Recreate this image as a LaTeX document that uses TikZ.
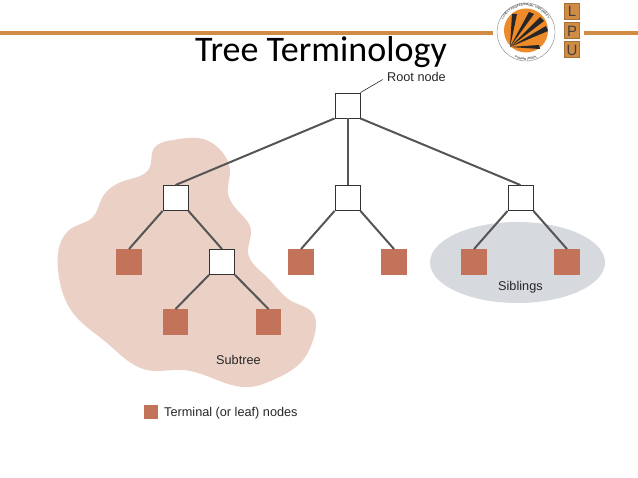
\documentclass[tikz,border=0pt]{standalone}
\usepackage{fontspec}
\setmainfont{Liberation Sans}
\newfontfamily\titlefont{Carlito}
\usetikzlibrary{hobby}
\usetikzlibrary{shapes.geometric}
\usetikzlibrary{decorations.text}
\definecolor{barorange}{HTML}{D08C45}
\definecolor{leafred}{HTML}{C4735B}
\definecolor{blobpink}{HTML}{EBD0C6}
\definecolor{ovalgrey}{HTML}{D6D9DE}
\definecolor{edgegrey}{HTML}{555555}
\definecolor{logoorange}{HTML}{EE8A2A}
\tikzstyle{inner box}=[draw=black!80, fill=white, minimum size=25pt, inner sep=0pt, line width=0.9pt]
\tikzstyle{leaf box}=[fill=leafred, minimum size=25.5pt, inner sep=0pt]
\tikzstyle{edge}=[draw=edgegrey, line width=2pt]
\tikzstyle{label}=[font=\fontsize{12.7}{14}\selectfont, text=black!85, inner sep=0pt]
\tikzstyle{letter box}=[draw=barorange!80!black, fill=barorange, minimum width=15pt, minimum height=16pt, inner sep=0pt, line width=1pt, font=\fontsize{15}{15}\selectfont, text=black!75]
\begin{document}
\begin{tikzpicture}[x=1pt, y=-1pt]
      \useasboundingbox (0, 0) rectangle (638, 478);
      % header
      \draw[barorange, line width=3.5pt] (0, 33) -- (493, 33) (584, 33) -- (638, 33);
      \node[font=\titlefont\fontsize{36}{38}\selectfont, inner sep=0pt] (title) at (321, 52) {Tree Terminology};
      \node[circle, draw=black!50, fill=white, minimum size=58pt, inner sep=0pt] (seal) at (526, 32) {};
      \node[circle, fill=logoorange, minimum size=44pt, inner sep=0pt] (sun) at (526, 30.5) {};
      \foreach \ax/\ay/\bx/\by in {512/14/517/14, 529/12/534/14, 540/17/544/21, 546/26/548/31, 539/45/540/49}
        \fill[black!85] (510, 47) -- (\ax, \ay) -- (\bx, \by) -- cycle;
      \path[decorate, decoration={text along path, text align=center,
          text={|\fontsize{3}{4}\selectfont|LOVELY PROFESSIONAL UNIVERSITY}}]
        (501, 38) arc[start angle=195, end angle=-15, radius=25.5pt];
      \path[decorate, decoration={text along path, text align=center,
          text={|\fontsize{3}{4}\selectfont|PUNJAB (INDIA)}}]
        (509, 54) arc[start angle=230, end angle=310, radius=26pt];
      \node[letter box] (l) at (572, 11.5) {L};
      \node[letter box] (p) at (572, 31) {P};
      \node[letter box] (u) at (572, 50) {U};
      % regions
      \fill[blobpink, use Hobby shortcut, closed=true] (153, 150) .. (173, 140) .. (203, 139) .. (223, 153) .. (230, 170)
        .. (228, 193) .. (240, 213) .. (251, 230) .. (248, 252) .. (267, 277)
        .. (293, 302) .. (312, 312) .. (314, 337) .. (303, 360) .. (273, 380)
        .. (250, 387) .. (217, 380) .. (183, 370) .. (147, 370) .. (107, 343)
        .. (73, 313) .. (58, 270) .. (72, 228) .. (93, 217) .. (102, 198)
        .. (127, 180) .. (150, 167);
      \node[ellipse, fill=ovalgrey, minimum width=175pt, minimum height=81pt, inner sep=0pt] (siblings) at (517.5, 262.5) {};
      % tree
      \node[inner box] (root) at (347.5, 105.5) {};
      \node[inner box] (a) at (175.5, 198) {};
      \node[inner box] (b) at (347.5, 198) {};
      \node[inner box] (c) at (520.5, 198) {};
      \node[leaf box] (a1) at (129, 262) {};
      \node[inner box] (a2) at (222, 262) {};
      \node[leaf box] (a21) at (175.5, 322) {};
      \node[leaf box] (a22) at (268.5, 322) {};
      \node[leaf box] (b1) at (301, 262) {};
      \node[leaf box] (b2) at (394, 262) {};
      \node[leaf box] (c1) at (474, 262) {};
      \node[leaf box] (c2) at (567, 262) {};
      \draw[edge] (root.south west) to (a.north);
      \draw[edge] (root.south) to (b.north);
      \draw[edge] (root.south east) to (c.north);
      \draw[edge] (a.south west) to (a1.north);
      \draw[edge] (a.south east) to (a2.north);
      \draw[edge] (a2.south west) to (a21.north);
      \draw[edge] (a2.south east) to (a22.north);
      \draw[edge] (b.south west) to (b1.north);
      \draw[edge] (b.south east) to (b2.north);
      \draw[edge] (c.south west) to (c1.north);
      \draw[edge] (c.south east) to (c2.north);
      % labels
      \node[label, anchor=west] (rootlabel) at (387, 77) {Root node};
      \draw[black!85, semithick, shorten >=5pt] (root.north east) to (rootlabel.west);
      \node[label, anchor=west] (siblingslabel) at (498, 287) {Siblings};
      \node[label, anchor=west] (subtreelabel) at (216, 360) {Subtree};
      \node[fill=leafred, minimum size=14pt, inner sep=0pt] (legend) at (151, 412) {};
      \node[label, anchor=west] (legendlabel) at (164, 413) {Terminal (or leaf) nodes};
    \end{tikzpicture}
\end{document}
